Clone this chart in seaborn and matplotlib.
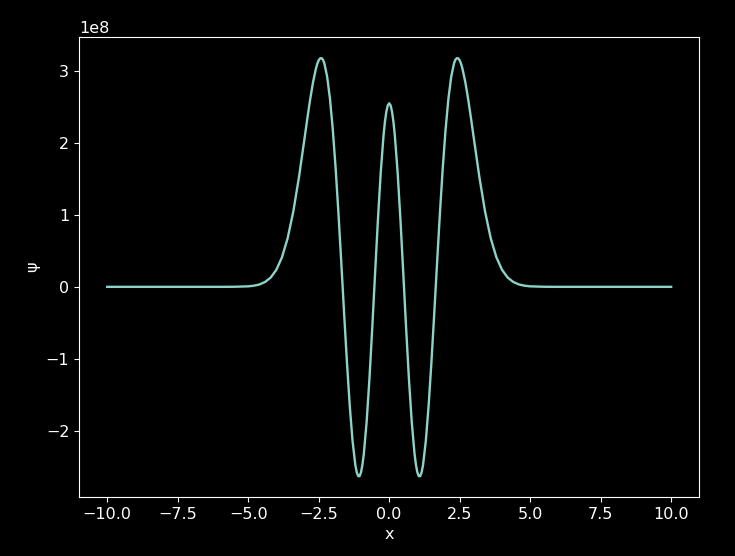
import matplotlib
matplotlib.use("Agg")
import matplotlib.pyplot as plt
import seaborn as sns
import numpy as np
import pandas as pd

# x positions and psi values (in units of 1e8)
x_vals = [-10.0, -8.0, -6.0, -5.5, -5.0, -4.8, -4.6, -4.4, -4.2, -4.0, -3.8, -3.6, -3.4, -3.2,
          -3.0, -2.9, -2.8, -2.7, -2.6, -2.55, -2.5, -2.45, -2.4, -2.35, -2.3, -2.2, -2.1, -2.0,
          -1.9, -1.8, -1.7, -1.6, -1.5, -1.4, -1.3, -1.2, -1.15, -1.1, -1.05, -1.0, -0.95, -0.9,
          -0.8, -0.7, -0.6, -0.5, -0.4, -0.3, -0.2, -0.15, -0.1, -0.05, 0.0, 0.05, 0.1, 0.15,
          0.2, 0.3, 0.4, 0.5, 0.6, 0.7, 0.8, 0.9, 0.95, 1.0, 1.05, 1.1, 1.15, 1.2, 1.3,
          1.4, 1.5, 1.6, 1.7, 1.8, 1.9, 2.0, 2.1, 2.2, 2.3, 2.35, 2.4, 2.45, 2.5, 2.55, 2.6,
          2.7, 2.8, 2.9, 3.0, 3.2, 3.4, 3.6, 3.8, 4.0, 4.2, 4.4, 4.6, 4.8, 5.0, 5.5, 6.0, 8.0, 10.0]
psi_vals = [0.0, 0.0, 0.0, 0.001, 0.007, 0.016, 0.033, 0.068, 0.130, 0.238, 0.413, 0.677, 1.047, 1.522,
            2.068, 2.346, 2.610, 2.844, 3.029, 3.098, 3.147, 3.174, 3.177, 3.156, 3.106, 2.919, 2.613, 2.186,
            1.651, 1.028, 0.346, -0.356, -1.035, -1.644, -2.138, -2.477, -2.577, -2.629, -2.630, -2.578, -2.475, -2.322,
            -1.877, -1.277, -0.569, 0.188, 0.928, 1.587, 2.105, 2.296, 2.436, 2.521, 2.550, 2.521, 2.436, 2.296,
            2.105, 1.587, 0.928, 0.188, -0.569, -1.277, -1.877, -2.322, -2.475, -2.578, -2.630, -2.629, -2.577, -2.477, -2.138,
            -1.644, -1.035, -0.356, 0.346, 1.028, 1.651, 2.186, 2.613, 2.919, 3.106, 3.156, 3.177, 3.174, 3.147, 3.098, 3.029,
            2.844, 2.610, 2.346, 2.068, 1.522, 1.047, 0.677, 0.413, 0.238, 0.130, 0.068, 0.033, 0.016, 0.007, 0.001, 0.0, 0.0, 0.0]
y_unit = 1e8

plt.style.use("dark_background")
plt.rcParams["font.size"] = 11.5

df = pd.DataFrame({"x": x_vals, "psi": [v * y_unit for v in psi_vals]})

fig = plt.figure(figsize=(7.35, 5.56), dpi=100)
ax = fig.add_axes([0.1075, 0.106, 0.844, 0.827])
sns.lineplot(data=df, x="x", y="psi", ax=ax, color="#8dd3c7", linewidth=1.7, sort=False)
ax.set_xlabel("x")
ax.set_ylabel("ψ")
fig.savefig("out.png", dpi=100)
